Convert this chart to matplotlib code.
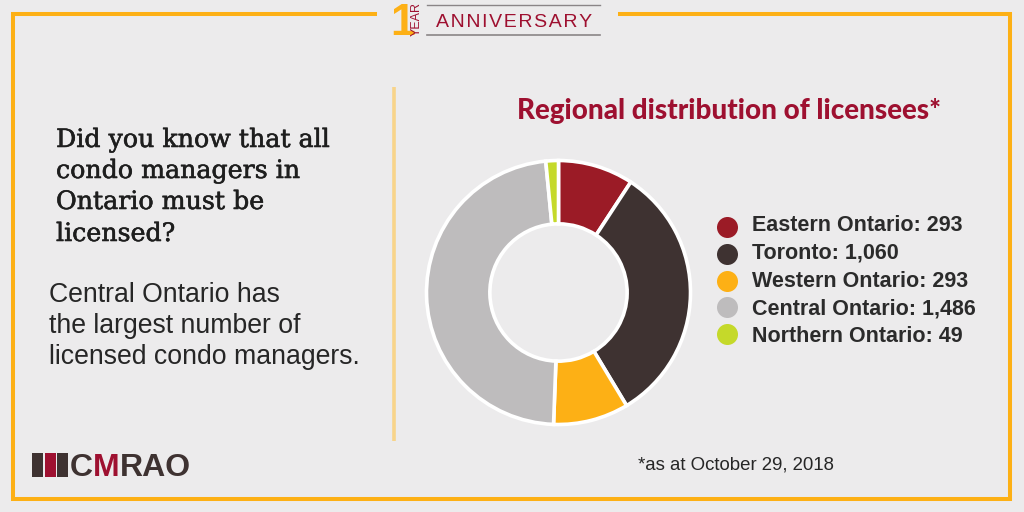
import matplotlib
matplotlib.use("Agg")
import matplotlib.pyplot as plt
import matplotlib.patheffects as pe
from matplotlib.patches import Rectangle

regions = ["Eastern Ontario", "Toronto", "Western Ontario", "Central Ontario", "Northern Ontario"]
# numbers printed in the legend
licensees = [293, 1060, 293, 1486, 49]
# sizes the slices actually have in the picture
slice_sizes = [293, 1021, 293, 1520, 49]
colors = ["#9b1b26", "#3e3231", "#fdb015", "#bebcbd", "#c5d92a"]
question = ["Did you know that all", "condo managers in", "Ontario must be", "licensed?"]
statement = ["Central Ontario has", "the largest number of", "licensed condo managers."]

BG = "#ecebec"
GOLD = "#fdb015"
MAROON = "#9e1030"
DARK = "#3e3231"
TXT = "#262626"
SANS = "Liberation Sans"
SERIF = "DejaVu Serif"

fig = plt.figure(figsize=(10.24, 5.12), dpi=100, facecolor=BG)
bg = fig.add_axes([0, 0, 1, 1])
bg.set_xlim(0, 1024)
bg.set_ylim(512, 0)
bg.axis("off")

# frame
bg.plot([377, 13, 13, 1010, 1010, 618], [14, 14, 499, 499, 14, 14], color=GOLD, lw=2.9,
        solid_joinstyle="miter", solid_capstyle="butt")

# anniversary header
bg.text(403, 35, "1", color=GOLD, fontsize=32, fontweight="bold", family=SANS, ha="center", va="baseline")
bg.text(417, 19.5, "YEAR", color=MAROON, fontsize=9, family=SANS, rotation=90, ha="center", va="center")
bg.plot([427, 600], [4.5, 4.5], color="#8a8587", lw=1)
bg.plot([427, 600], [34.5, 34.5], color="#8a8587", lw=1.2)
bg.text(514.5, 27, "A\u200aN\u200aN\u200aI\u200aV\u200aE\u200aR\u200aS\u200aA\u200aR\u200aY",
        color=MAROON, fontsize=14, family=SANS, ha="center", va="baseline")

# divider
bg.plot([394, 394], [87, 441], color="#f8d48a", lw=2.6, solid_capstyle="butt")

# texts
for y, line in zip([147, 178, 209, 241], question):
    bg.text(56, y, line, fontsize=18.2, family=SERIF, color="#1e1e1e", va="baseline", ha="left",
            path_effects=[pe.withStroke(linewidth=0.4, foreground="#1e1e1e")])
for y, line in zip([295, 326, 357], statement):
    bg.text(49, y, line, fontsize=19.2, family=SANS, color=TXT, va="center", ha="left")

bg.text(729, 111, "Regional distribution of licensees*", fontsize=20, family="Lato",
        fontweight="black", color=MAROON, ha="center", va="center")
bg.text(736, 465, "*as at October 29, 2018", fontsize=13.4, family=SANS, color=TXT, ha="center", va="center")

# legend
for my, ty, c, r, v in zip([227, 254, 281, 307, 334], [231, 259, 287, 315, 342], colors, regions, licensees):
    bg.scatter([727], [my], s=229, color=c, linewidths=0)
    bg.text(752, ty, f"{r}: {v:,}", fontsize=15.5, fontweight="bold", family=SANS, color="#2b2b2b", va="baseline")

# logo
for x, c in [(32, DARK), (45, MAROON), (57, DARK)]:
    bg.add_patch(Rectangle((x, 453), 11, 24, color=c, lw=0))
bg.text(70, 476.5, "C", fontsize=23, fontweight="bold", family=SANS, color=DARK, va="baseline")
bg.text(93, 476.5, "M", fontsize=23, fontweight="bold", family=SANS, color=MAROON, va="baseline")
bg.text(120, 476.5, "RAO", fontsize=23, fontweight="bold", family=SANS, color=DARK, va="baseline")

# donut
R = 132
cx, cy = 558.5, 292.5
ax = fig.add_axes([(cx - R) / 1024, 1 - (cy + R) / 512, 2 * R / 1024, 2 * R / 512])
ax.pie(slice_sizes, colors=colors, startangle=90, counterclock=False, radius=1,
       wedgeprops=dict(width=0.48, edgecolor="white", linewidth=2.6))
ax.set_xlim(-1, 1)
ax.set_ylim(-1, 1)
ax.patch.set_alpha(0)
for w in ax.patches:
    w.set_clip_on(False)

fig.savefig("out.png", dpi=100, facecolor=BG)
